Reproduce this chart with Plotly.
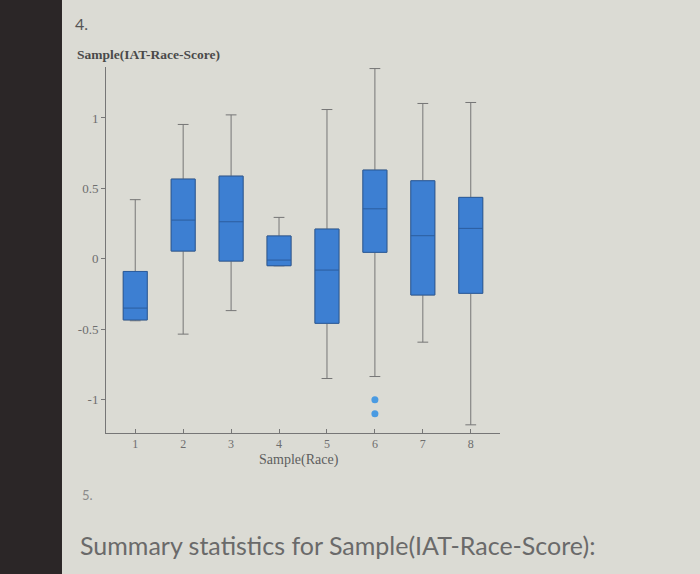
import plotly.graph_objects as go

# ---- data ----
groups = [1, 2, 3, 4, 5, 6, 7, 8]
lower_whisker = [-0.44, -0.535, -0.368, -0.05, -0.85, -0.836, -0.592, -1.179]
q1 = [-0.434, 0.055, -0.016, -0.049, -0.458, 0.046, -0.257, -0.245]
median = [-0.35, 0.275, 0.263, -0.009, -0.08, 0.355, 0.164, 0.216]
q3 = [-0.09, 0.566, 0.587, 0.162, 0.211, 0.63, 0.554, 0.436]
upper_whisker = [0.42, 0.954, 1.022, 0.294, 1.06, 1.351, 1.103, 1.11]
outlier_x = [6, 6]
outlier_y = [-1.001, -1.101]

y_ticks = [-1, -0.5, 0, 0.5, 1]
y_tick_text = ["-1", "-0.5", "0", "0.5", "1"]

BG = "#dbdbd4"
BLUE = "#3d7fd2"
DARKBLUE = "#2c5d9e"
GRAY = "#767676"
serif = "Liberation Serif"

fig = go.Figure()

# whiskers (gray)
fig.add_trace(go.Box(
    x=groups, q1=q1, median=median, q3=q3,
    lowerfence=lower_whisker, upperfence=upper_whisker,
    fillcolor=BLUE, line=dict(color=GRAY, width=1),
    width=0.5, whiskerwidth=0.45, boxpoints=False,
    showlegend=False, hoverinfo="skip",
))
# box body with darker outline on top
fig.add_trace(go.Box(
    x=groups, q1=q1, median=median, q3=q3,
    lowerfence=q1, upperfence=q3,
    fillcolor=BLUE, line=dict(color=DARKBLUE, width=1),
    width=0.5, whiskerwidth=0, boxpoints=False,
    showlegend=False,
))
# outliers
fig.add_trace(go.Scatter(
    x=outlier_x, y=outlier_y, mode="markers",
    marker=dict(color="#4a9be2", size=7),
    showlegend=False,
))

axis_common = dict(
    showgrid=False, zeroline=False, showline=True,
    linecolor=GRAY, linewidth=1, tickcolor=GRAY,
)

fig.update_layout(
    width=700, height=574,
    margin=dict(l=106, r=200, t=67, b=141),
    paper_bgcolor=BG, plot_bgcolor=BG,
    boxmode="overlay",
    xaxis=dict(range=[0.39, 8.61], tickmode="array", tickvals=groups,
               ticktext=[str(g) for g in groups], ticks="inside", ticklen=4,
               tickfont=dict(family=serif, size=12, color="#6e6e6e"),
               **axis_common),
    yaxis=dict(range=[-1.237, 1.362], tickmode="array", tickvals=y_ticks,
               ticktext=y_tick_text, ticks="outside", ticklen=4,
               tickfont=dict(family=serif, size=13, color="#6e6e6e"),
               **axis_common),
    shapes=[dict(type="rect", xref="paper", yref="paper",
                 x0=-0.3, x1=-0.1117, y0=-0.4, y1=1.2,
                 fillcolor="#2b2627", line=dict(width=0), layer="above")],
    annotations=[
        dict(text="4.", xref="paper", yref="paper", x=-0.0838, y=1.1175,
             xanchor="left", yanchor="middle", showarrow=False,
             font=dict(family="Lato", size=16, color="#555555")),
        dict(text="<b>Sample(IAT-Race-Score)</b>", xref="paper", yref="paper",
             x=-0.0787, y=1.0328, xanchor="left", yanchor="middle",
             showarrow=False,
             font=dict(family=serif, size=13.5, color="#4a4a4a")),
        dict(text="Sample(Race)", xref="paper", yref="paper",
             x=0.49, y=-0.0738, xanchor="center", yanchor="middle",
             showarrow=False,
             font=dict(family=serif, size=14, color="#5e5e5e")),
        dict(text="5.", xref="paper", yref="paper", x=-0.066, y=-0.1694,
             xanchor="left", yanchor="middle", showarrow=False,
             font=dict(family="Lato", size=13, color="#8a8a8a")),
        dict(text="Summary statistics for Sample(IAT-Race-Score):",
             xref="paper", yref="paper", x=-0.0711, y=-0.306,
             xanchor="left", yanchor="middle", showarrow=False,
             font=dict(family="Lato", size=25, color="#6a6a6a")),
    ],
)

fig.write_html("out.html")
